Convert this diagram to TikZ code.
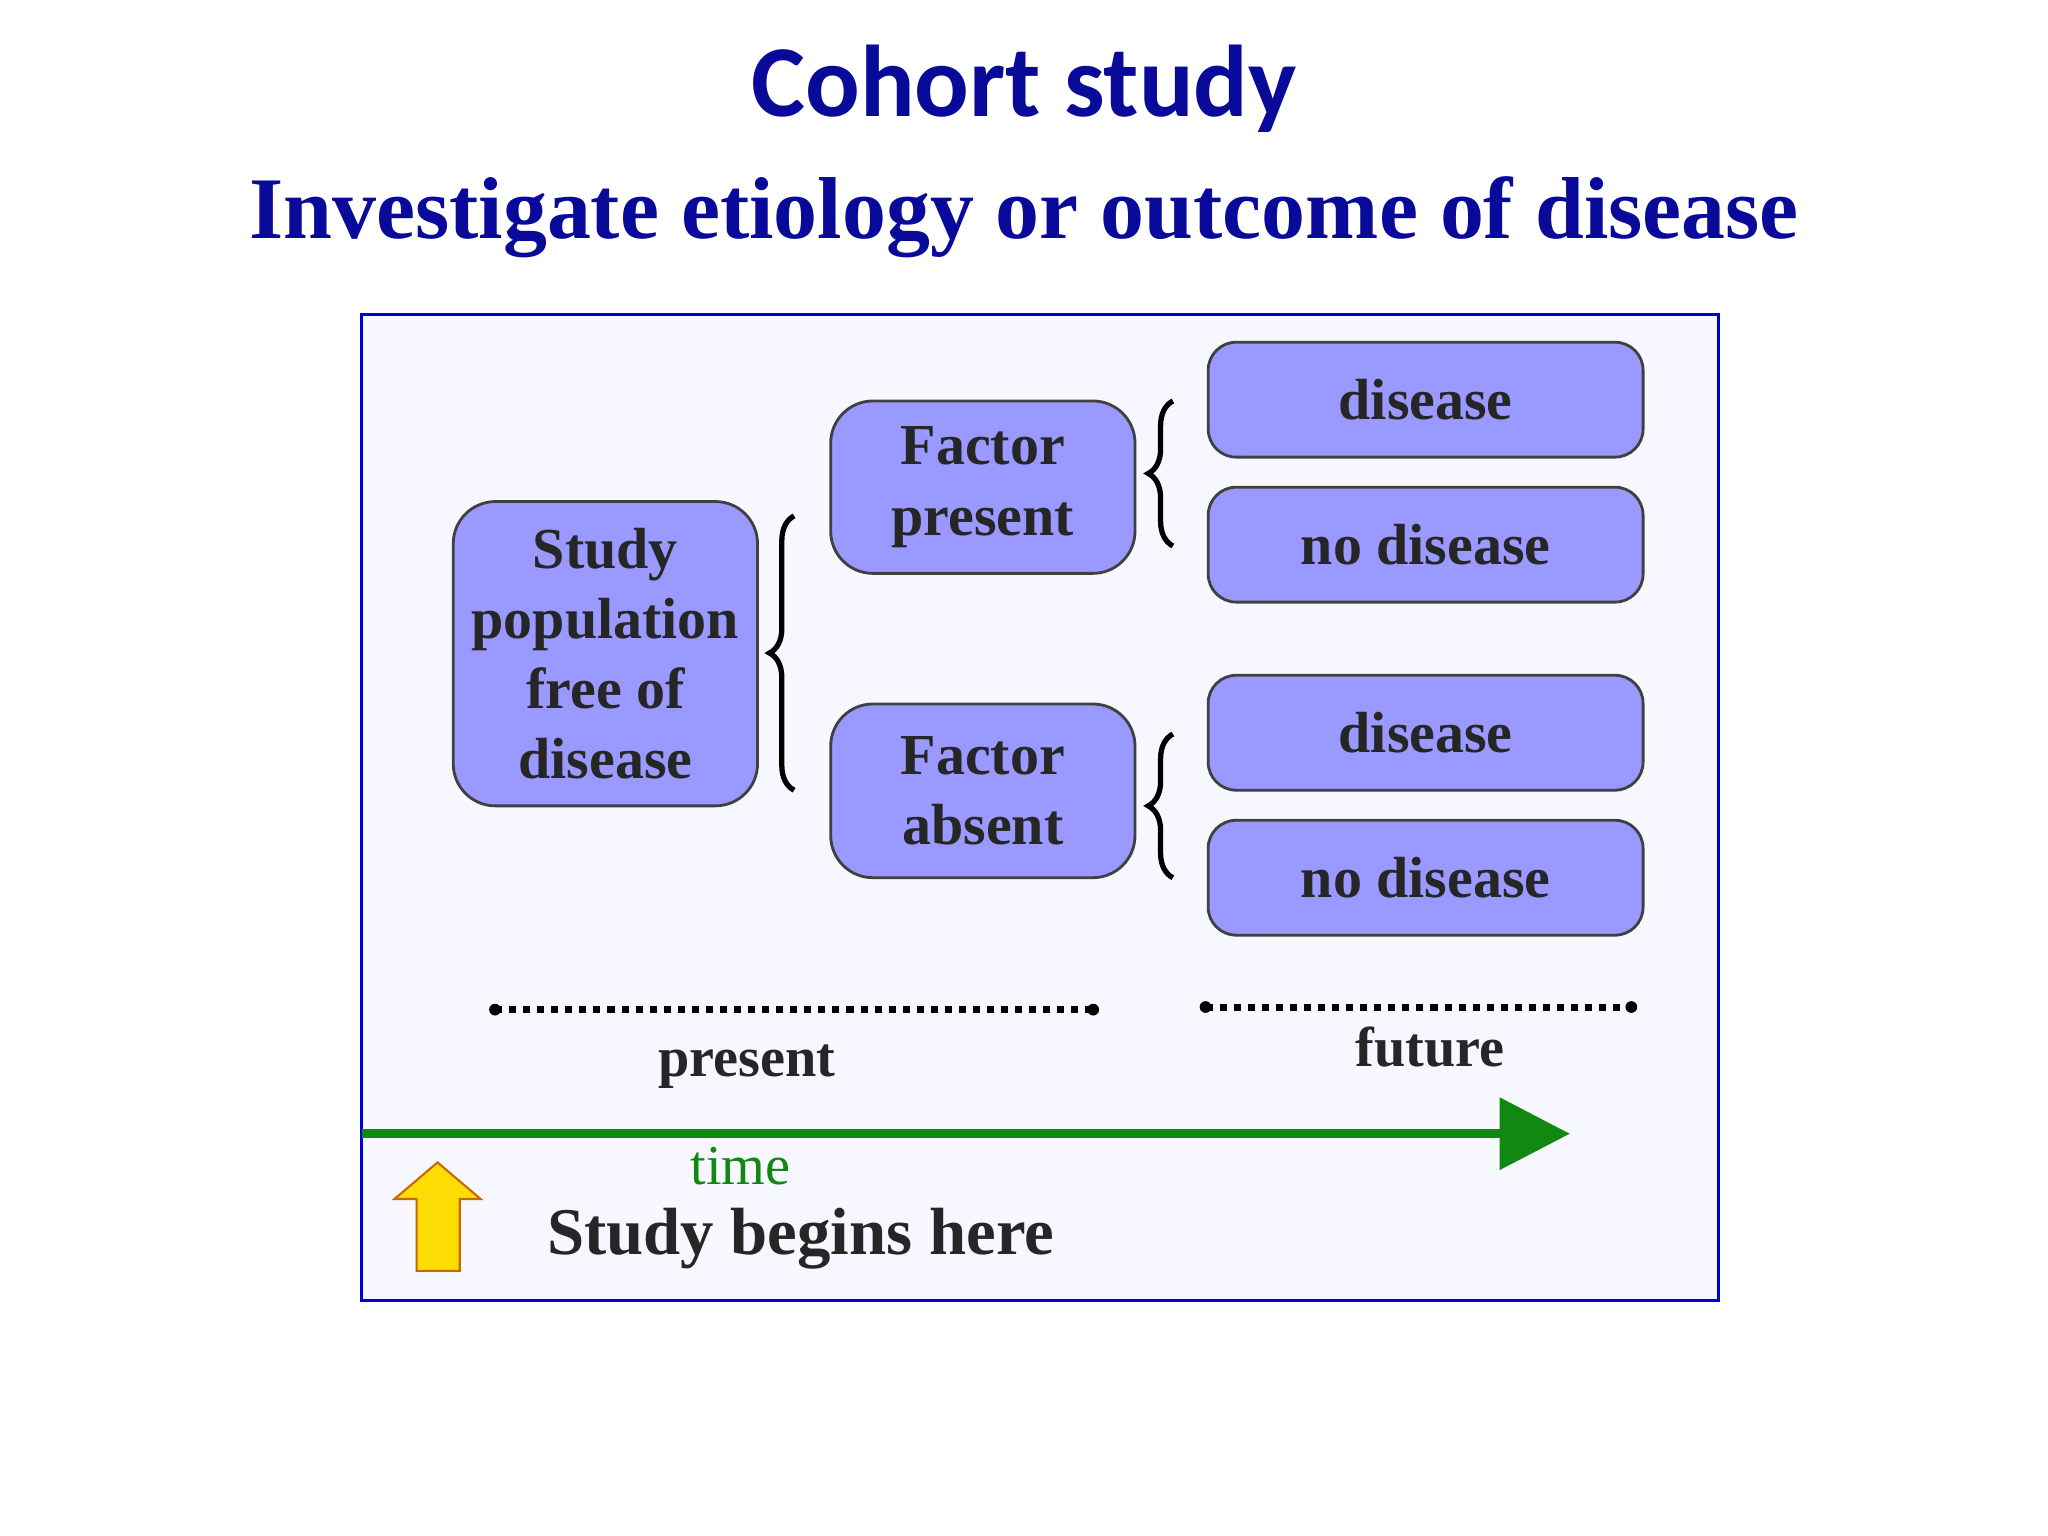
\documentclass[tikz,border=0pt]{standalone}
\usepackage{fontspec}
\setmainfont{Liberation Serif}
\newfontfamily\titlefont{Carlito}
\usetikzlibrary{decorations.pathreplacing,arrows.meta}
\definecolor{boxfill}{HTML}{9999FF}
\definecolor{navy}{HTML}{0A0A9A}
\definecolor{gr}{HTML}{118811}
\tikzset{
 box/.style={draw=black!75,fill=boxfill,rounded corners=12pt,line width=0.8pt,align=center,
   font=\fontsize{16.5}{20}\selectfont\bfseries,text=black!85,inner sep=0pt},
 brc/.style={decorate,decoration={brace,amplitude=7pt},line width=1.5pt},
 dots/.style={line width=2pt,dotted},
 lbl/.style={font=\fontsize{16}{19}\selectfont\bfseries,text=black!85}
}
\begin{document}
\begin{tikzpicture}[x=0.01306cm,y=-0.01306cm]
\useasboundingbox[fill=white] (0,0) rectangle (1568,1176);
\node[font=\titlefont\fontsize{29}{34}\selectfont\bfseries,text=navy] (t) at (784,68) {Cohort study};
\node[font=\fontsize{25}{30}\selectfont\bfseries,text=navy] (st) at (784,166) {Investigate etiology or outcome of disease};
\draw[draw=blue!85!black,fill=blue!3!white,line width=0.8pt] (277,241) rectangle (1316,996);
\node[box,minimum width=233*0.01306cm,minimum height=233*0.01306cm] (sp) at (463.5,500.5) {Study\\population\\free of\\disease};
\node[box,minimum width=233*0.01306cm,minimum height=132*0.01306cm] (fp) at (752.5,373) {Factor\\present};
\node[box,minimum width=233*0.01306cm,minimum height=133*0.01306cm] (fa) at (752.5,605.5) {Factor\\absent};
\foreach \n/\y/\t in {d1/306/disease,n1/417/no disease,d2/561/disease,n2/672/no disease}
  \node[box,rounded corners=8pt,minimum width=333*0.01306cm,minimum height=88*0.01306cm] (\n) at (1091.5,\y) {\t};
\draw[brc] (608,605) -- (608,395);
\draw[brc] (898,418) -- (898,307);
\draw[brc] (898,672) -- (898,562);
\coordinate (a1) at (379,773); \coordinate (a2) at (837,773);
\coordinate (b1) at (923,771); \coordinate (b2) at (1249,771);
\draw[dots] (a1) -- (a2); \draw[dots] (b1) -- (b2);
\foreach \c in {a1,a2,b1,b2} \fill (\c) circle (4.5);
\node[lbl] (pr) at (572,817) {present};
\node[lbl] (fu) at (1095,802) {future};
\coordinate (g1) at (277,868); \coordinate (g2) at (1202,868);
\draw[gr,line width=2.6pt,-{Triangle[length=20pt,width=20pt]}] (g1) -- (g2);
\node[text=gr,font=\fontsize{16}{19}\selectfont] (tm) at (567,893) {time};
\draw[draw=orange!80!black,fill=yellow!80!orange,line width=0.6pt]
 (319,973) -- (319,918) -- (302,918) -- (335,890) -- (368,918) -- (352,918) -- (352,973) -- cycle;
\node[font=\fontsize{19}{23}\selectfont\bfseries,text=black!85] (sb) at (613,948) {Study begins here};
\end{tikzpicture}
\end{document}
